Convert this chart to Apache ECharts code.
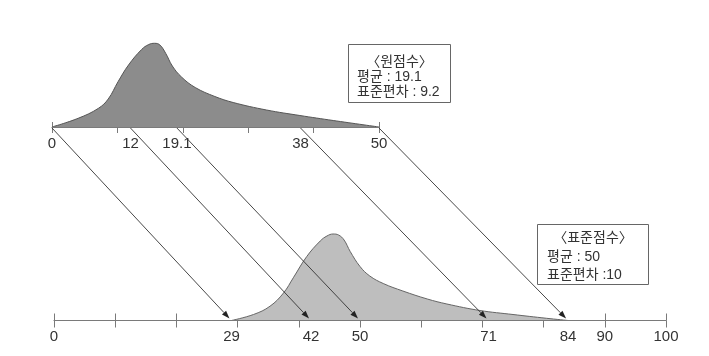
<!DOCTYPE html>
<html><head><meta charset="utf-8">
<script src="https://cdn.jsdelivr.net/npm/echarts@6/dist/echarts.min.js"></script>
<style>html,body{margin:0;padding:0;background:#fff}#c{width:709px;height:356px}</style>
</head><body><div id="c"></div>
<script>
// Raw-score distribution (top), x in score units, y in relative height
const rawX = [0, 4.0, 7.1, 8.6, 10.1, 11.7, 13.7, 14.8, 15.7, 16.5, 17.4, 18.4, 19.8, 21.9, 24.9, 27.7, 32.8, 37.9, 43.0, 50];
const rawY = [0, 8.7, 18.7, 28, 45.3, 62, 77.5, 82.5, 83.7, 82, 73.5, 61, 50, 39.5, 30.5, 24.5, 17, 11.5, 6.5, 0];
// Standard-score distribution (bottom)
const stdX = [29, 32.6, 35.3, 37.5, 39.1, 41.3, 43.5, 44.6, 45.6, 46.5, 47.4, 48.4, 50.0, 51.6, 53.8, 57.0, 61.0, 64.2, 69.6, 75.0, 80.5, 84];
const stdY = [0, 6, 14.3, 27.5, 42.7, 64, 79.5, 84.5, 86.5, 85.5, 80.5, 69, 54, 44.5, 37, 29.5, 21.5, 16.5, 10, 6, 2.2, 0];

const rawTicks = [0, 10, 20, 30, 40, 50];
const rawUpTicks = [0, 50];
const rawLabels = [0, 12, 19.1, 38, 50];
const stdTicks = [0, 10, 20, 30, 40, 50, 60, 70, 80, 90, 100];
const stdUpTicks = [0, 10, 20, 90, 100];
const stdLabels = [0, 29, 42, 50, 71, 84, 90, 100];

const mapFrom = [0, 12, 19.1, 38, 50];
const mapTo = [29, 42, 50, 71, 84];

const rawBox = ['〈원점수〉', '평균 : 19.1', '표준편차 : 9.2'];
const stdBox = ['〈표준점수〉', '평균 : 50', '표준편차 :10'];

const FONT = '"Liberation Sans", Arial, "Noto Sans CJK KR", sans-serif';
const axisColor = '#7a7a7a';

function upAxis(grid, max, ticks, len) {
  return {
    type: 'value', gridIndex: grid, position: 'bottom', min: 0, max: max, onZero: false,
    axisLine: { show: false }, splitLine: { show: false }, axisLabel: { show: false },
    axisTick: { show: true, inside: true, length: len, customValues: ticks, lineStyle: { color: axisColor, width: 1 } }
  };
}
function mainAxis(grid, max, ticks, labels, len) {
  return {
    type: 'value', gridIndex: grid, position: 'bottom', min: 0, max: max, z: 5,
    axisLine: { show: true, onZero: false, lineStyle: { color: axisColor, width: 1.2 } },
    splitLine: { show: false },
    axisTick: { show: true, inside: false, length: len, customValues: ticks, lineStyle: { color: axisColor, width: 1 } },
    axisLabel: { show: true, customValues: labels, margin: 9, color: '#333', fontSize: 15, fontFamily: FONT,
      formatter: v => String(v) }
  };
}

const chart = echarts.init(document.getElementById('c'));
chart.setOption({
  animation: false,
  backgroundColor: '#fff',
  grid: [
    { left: 52, right: 330, top: 27, height: 100, outerBoundsMode: 'none', containLabel: false },
    { left: 54, right: 43, top: 220.5, height: 100, outerBoundsMode: 'none', containLabel: false }
  ],
  xAxis: [
    upAxis(0, 50, rawUpTicks, 5),
    mainAxis(0, 50, rawTicks, rawLabels, 6),
    upAxis(1, 100, stdUpTicks, 7),
    mainAxis(1, 100, stdTicks, stdLabels, 7)
  ],
  yAxis: [
    { type: 'value', gridIndex: 0, min: 0, max: 100, show: false },
    { type: 'value', gridIndex: 1, min: 0, max: 100, show: false }
  ],
  series: [
    { type: 'line', xAxisIndex: 1, yAxisIndex: 0, smooth: 0.4, symbol: 'none',
      data: rawX.map((x, i) => [x, rawY[i]]),
      lineStyle: { color: '#555', width: 1 }, areaStyle: { color: '#8c8c8c', opacity: 1 } },
    { type: 'line', xAxisIndex: 3, yAxisIndex: 1, smooth: 0.4, symbol: 'none',
      data: stdX.map((x, i) => [x, stdY[i]]),
      lineStyle: { color: '#666', width: 1 }, areaStyle: { color: '#bebebe', opacity: 1 } }
  ]
});

const g = [];
mapFrom.forEach((a, i) => {
  const p0 = chart.convertToPixel({ seriesIndex: 0 }, [a, 0]);
  const p1 = chart.convertToPixel({ seriesIndex: 1 }, [mapTo[i], 0]);
  const sx = p0[0], sy = p0[1] + 1;
  const ex = p1[0] - 2, ey = p1[1] - 2;
  const dx = ex - sx, dy = ey - sy, L = Math.hypot(dx, dy);
  const ux = dx / L, uy = dy / L, px = -uy, py = ux;
  const bx = ex - ux * 8, by = ey - uy * 8;
  g.push({ type: 'line', z: 100, shape: { x1: sx, y1: sy, x2: bx, y2: by }, style: { stroke: '#333', lineWidth: 0.9 } });
  g.push({ type: 'polygon', z: 100, shape: { points: [[ex, ey], [bx + px * 2.8, by + py * 2.8], [bx - px * 2.8, by - py * 2.8]] }, style: { fill: '#222' } });
});

function box(x, y, w, h, lines, titleY, l2, l3, textX) {
  g.push({ type: 'rect', z: 50, shape: { x: x, y: y, width: w, height: h }, style: { fill: '#fff', stroke: '#666', lineWidth: 1 } });
  g.push({ type: 'text', z: 51, x: x + w / 2, y: titleY, style: { text: lines[0], fill: '#333', font: '14px ' + FONT, align: 'center', verticalAlign: 'middle' } });
  g.push({ type: 'text', z: 51, x: textX, y: l2, style: { text: lines[1], fill: '#333', font: '14px ' + FONT, align: 'left', verticalAlign: 'middle' } });
  g.push({ type: 'text', z: 51, x: textX, y: l3, style: { text: lines[2], fill: '#333', font: '14px ' + FONT, align: 'left', verticalAlign: 'middle' } });
}
box(348.5, 44.5, 102, 58, rawBox, 62, 77, 92.5, 357);
box(537.5, 224.5, 111, 60, stdBox, 238.5, 257, 275, 547);

chart.setOption({ graphic: g });
</script>
</body></html>
